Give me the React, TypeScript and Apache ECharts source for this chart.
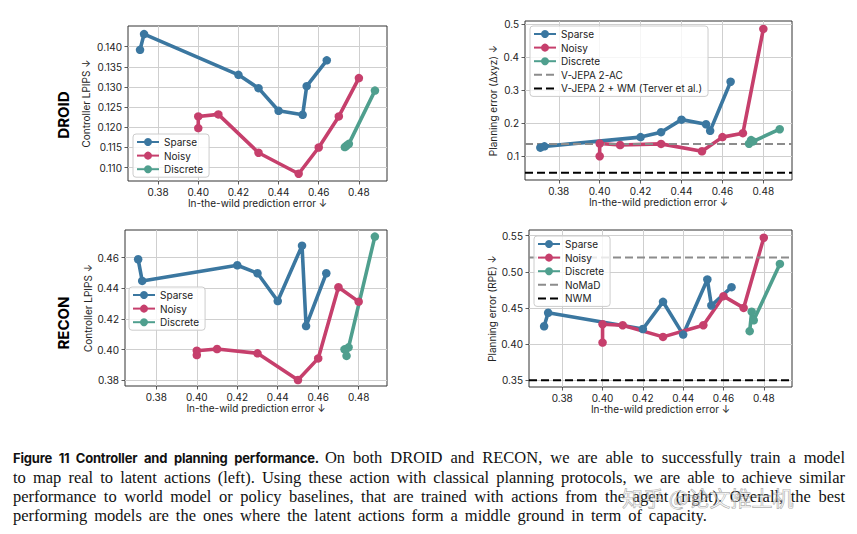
import React, { useEffect, useRef } from "react";
import * as echarts from "echarts";

// In-the-wild prediction error of each trained model (shared by all panels)
const SPARSE_X = [0.371, 0.373, 0.42, 0.43, 0.44, 0.452, 0.454, 0.464];
const NOISY_X = [0.4, 0.4, 0.41, 0.43, 0.45, 0.46, 0.47, 0.48];
const DISCRETE_X = [0.473, 0.474, 0.475, 0.488];

// DROID – controller LPIPS
const DROID_LPIPS_SPARSE = [0.1392, 0.1431, 0.133, 0.1297, 0.1241, 0.1231, 0.1302, 0.1366];
const DROID_LPIPS_NOISY = [0.1198, 0.1227, 0.1232, 0.1137, 0.1085, 0.115, 0.1227, 0.1322];
const DROID_LPIPS_DISCRETE = [0.1151, 0.1155, 0.1159, 0.1291];

// DROID – planning error (Δxyz)
const DROID_PLAN_SPARSE = [0.126, 0.13, 0.158, 0.173, 0.211, 0.197, 0.177, 0.326];
const DROID_PLAN_NOISY = [0.1, 0.1385, 0.134, 0.1375, 0.115, 0.158, 0.17, 0.486];
const DROID_PLAN_DISCRETE = [0.138, 0.149, 0.145, 0.182];
const VJEPA_AC = 0.137;
const VJEPA_WM = 0.05;

// RECON – controller LPIPS
const RECON_LPIPS_SPARSE = [0.4589, 0.4448, 0.455, 0.4498, 0.4317, 0.4678, 0.4154, 0.4498];
const RECON_LPIPS_NOISY = [0.3965, 0.3993, 0.4004, 0.3976, 0.3802, 0.3943, 0.4407, 0.4313];
const RECON_LPIPS_DISCRETE = [0.4002, 0.3959, 0.4015, 0.4737];

// RECON – planning error (RPE)
const RECON_PLAN_SPARSE = [0.4248, 0.4434, 0.421, 0.4586, 0.4133, 0.4895, 0.4535, 0.4789];
const RECON_PLAN_NOISY = [0.4022, 0.4276, 0.4262, 0.4101, 0.4262, 0.4664, 0.4502, 0.5472];
const RECON_PLAN_DISCRETE = [0.418, 0.445, 0.433, 0.511];
const NOMAD = 0.52;
const NWM = 0.35;

// Tick labels
const X_TICKS = [0.38, 0.4, 0.42, 0.44, 0.46, 0.48];
const DROID_LPIPS_TICKS = [0.11, 0.115, 0.12, 0.125, 0.13, 0.135, 0.14];
const DROID_PLAN_TICKS = [0.1, 0.2, 0.3, 0.4, 0.5];
const RECON_LPIPS_TICKS = [0.38, 0.4, 0.42, 0.44, 0.46];
const RECON_PLAN_TICKS = [0.35, 0.4, 0.45, 0.5, 0.55];

const CAPTION_BOLD = "Figure 11\u2002Controller and planning performance.";
const CAPTION_LINES = [
  "On both DROID and RECON, we are able to successfully train a model",
  "to map real to latent actions (left). Using these action with classical planning protocols, we are able to achieve similar",
  "performance to world model or policy baselines, that are trained with actions from the agent (right). Overall, the best",
  "performing models are the ones where the latent actions form a middle ground in term of capacity.",
];

const C_SPARSE = "#3b77a0";
const C_NOISY = "#c63f6c";
const C_DISCRETE = "#4f9f8e";
const FONT = "Inter, 'DejaVu Sans', sans-serif";
const TEXT = "#222";

const zip = (xs: number[], ys: number[]) => xs.map((x, i) => [x, ys[i]]);

type Ref = { name: string; value: number; color: string };
type Panel = {
  grid: { left: number; top: number; width: number; height: number };
  xRange: [number, number];
  yRange: [number, number];
  yTicks: number[];
  yDigits: number;
  yName: string;
  yNameGap: number;
  sparse: number[];
  noisy: number[];
  discrete: number[];
  refs: Ref[];
  legend: { left: number; top: number };
};

const panels: Panel[] = [
  {
    grid: { left: 128, top: 26, width: 259, height: 155 },
    xRange: [0.365, 0.494],
    yRange: [0.1067, 0.1451],
    yTicks: DROID_LPIPS_TICKS,
    yDigits: 3,
    yName: "Controller LPIPS \u2193",
    yNameGap: 37,
    sparse: DROID_LPIPS_SPARSE,
    noisy: DROID_LPIPS_NOISY,
    discrete: DROID_LPIPS_DISCRETE,
    refs: [],
    legend: { left: 133, top: 134 },
  },
  {
    grid: { left: 525, top: 21, width: 267, height: 159 },
    xRange: [0.3635, 0.494],
    yRange: [0.028, 0.51],
    yTicks: DROID_PLAN_TICKS,
    yDigits: 1,
    yName: "Planning error (\u0394xyz) \u2193",
    yNameGap: 27,
    sparse: DROID_PLAN_SPARSE,
    noisy: DROID_PLAN_NOISY,
    discrete: DROID_PLAN_DISCRETE,
    refs: [
      { name: "V-JEPA 2-AC", value: VJEPA_AC, color: "#8c8c8c" },
      { name: "V-JEPA 2 + WM (Terver et al.)", value: VJEPA_WM, color: "#000000" },
    ],
    legend: { left: 530, top: 26 },
  },
  {
    grid: { left: 125, top: 230, width: 262, height: 156 },
    xRange: [0.3645, 0.494],
    yRange: [0.3763, 0.478],
    yTicks: RECON_LPIPS_TICKS,
    yDigits: 2,
    yName: "Controller LPIPS \u2193",
    yNameGap: 32,
    sparse: RECON_LPIPS_SPARSE,
    noisy: RECON_LPIPS_NOISY,
    discrete: RECON_LPIPS_DISCRETE,
    refs: [],
    legend: { left: 129, top: 287 },
  },
  {
    grid: { left: 529, top: 230, width: 263, height: 157 },
    xRange: [0.3635, 0.494],
    yRange: [0.3408, 0.5579],
    yTicks: RECON_PLAN_TICKS,
    yDigits: 2,
    yName: "Planning error (RPE) \u2193",
    yNameGap: 31,
    sparse: RECON_PLAN_SPARSE,
    noisy: RECON_PLAN_NOISY,
    discrete: RECON_PLAN_DISCRETE,
    refs: [
      { name: "NoMaD", value: NOMAD, color: "#8c8c8c" },
      { name: "NWM", value: NWM, color: "#000000" },
    ],
    legend: { left: 534, top: 236 },
  },
];

function buildOption() {
  const grids: any[] = [];
  const xAxes: any[] = [];
  const yAxes: any[] = [];
  const series: any[] = [];
  const legends: any[] = [];

  panels.forEach((p, i) => {
    grids.push({
      ...p.grid,
      show: true,
      borderColor: "#333",
      borderWidth: 1,
      backgroundColor: "transparent",
    });
    xAxes.push({
      gridIndex: i,
      type: "value",
      min: p.xRange[0],
      max: p.xRange[1],
      axisLine: { show: false, onZero: false },
      axisTick: {
        show: true,
        customValues: X_TICKS,
        length: 3.5,
        lineStyle: { color: "#333", width: 0.8 },
      },
      axisLabel: {
        customValues: X_TICKS,
        formatter: (v: number) => v.toFixed(2),
        fontSize: 10,
        color: TEXT,
        fontFamily: FONT,
        margin: 6,
      },
      splitLine: { show: true, lineStyle: { color: "#cfcfcf", width: 1 } },
      name: "In-the-wild prediction error \u2193",
      nameLocation: "middle",
      nameGap: 17,
      nameTextStyle: { fontSize: 10, color: TEXT, fontFamily: FONT },
    });
    yAxes.push({
      gridIndex: i,
      type: "value",
      min: p.yRange[0],
      max: p.yRange[1],
      axisLine: { show: false, onZero: false },
      axisTick: {
        show: true,
        customValues: p.yTicks,
        length: 3.5,
        lineStyle: { color: "#333", width: 0.8 },
      },
      axisLabel: {
        customValues: p.yTicks,
        formatter: (v: number) => v.toFixed(p.yDigits),
        fontSize: 10,
        color: TEXT,
        fontFamily: FONT,
        margin: 6,
      },
      splitLine: { show: true, lineStyle: { color: "#cfcfcf", width: 1 } },
      name: p.yName,
      nameLocation: "middle",
      nameGap: p.yNameGap,
      nameTextStyle: { fontSize: 10, color: TEXT, fontFamily: FONT },
    });

    const lineSeries = (name: string, xs: number[], ys: number[], color: string) => ({
      name,
      type: "line",
      xAxisIndex: i,
      yAxisIndex: i,
      data: zip(xs, ys),
      symbol: "circle",
      symbolSize: 8.5,
      lineStyle: { width: 3.6, color },
      itemStyle: { color },
      silent: true,
    });
    series.push(lineSeries("Sparse", SPARSE_X, p.sparse, C_SPARSE));
    series.push(lineSeries("Noisy", NOISY_X, p.noisy, C_NOISY));
    series.push(lineSeries("Discrete", DISCRETE_X, p.discrete, C_DISCRETE));
    p.refs.forEach((r) => {
      series.push({
        name: r.name,
        type: "line",
        xAxisIndex: i,
        yAxisIndex: i,
        data: [
          [p.xRange[0], r.value],
          [p.xRange[1], r.value],
        ],
        symbol: "none",
        lineStyle: { width: 2, color: r.color, type: [8, 4] },
        itemStyle: { color: r.color },
        silent: true,
      });
    });

    legends.push({
      orient: "vertical",
      left: p.legend.left,
      top: p.legend.top,
      data: [
        "Sparse",
        "Noisy",
        "Discrete",
        // reference lines: dashes only, no marker in the key
        ...p.refs.map((r) => ({
          name: r.name,
          itemStyle: { opacity: 0, color: "rgba(0,0,0,0)", borderWidth: 0 },
        })),
      ],
      itemWidth: 22,
      itemHeight: 10,
      itemGap: 3.6,
      padding: [3, 6, 3, 3],
      borderColor: "#cccccc",
      borderWidth: 1,
      borderRadius: 3,
      backgroundColor: "rgba(255,255,255,0.8)",
      textStyle: { fontSize: 10, color: TEXT, fontFamily: FONT },
      selectedMode: false,
    });
  });

  const rowLabel = (text: string, y: number) => ({
    type: "text",
    x: 63,
    y,
    rotation: Math.PI / 2,
    style: {
      text,
      fontSize: 15,
      fontWeight: "bold",
      fontFamily: FONT,
      fill: "#000",
      align: "center",
      verticalAlign: "middle",
    },
  });

  return {
    animation: false,
    backgroundColor: "#fff",
    grid: grids,
    xAxis: xAxes,
    yAxis: yAxes,
    series,
    legend: legends,
    graphic: [rowLabel("DROID", 115), rowLabel("RECON", 323)],
  };
}

export default function App() {
  const ref = useRef<HTMLDivElement>(null);

  useEffect(() => {
    if (!ref.current) return;
    const chart = echarts.init(ref.current, undefined, { renderer: "svg" });
    chart.setOption(buildOption() as any);
    return () => chart.dispose();
  }, []);

  return (
    <div
      style={{
        position: "fixed",
        left: 0,
        top: 0,
        width: 857,
        height: 534,
        background: "#fff",
        overflow: "hidden",
      }}
    >
      <div ref={ref} style={{ position: "absolute", left: 0, top: 0, width: 857, height: 430 }} />
      <div
        style={{
          position: "absolute",
          left: 13,
          top: 447.5,
          width: 832,
          fontFamily: "'Liberation Serif', 'DejaVu Serif', serif",
          fontSize: 16.5,
          lineHeight: "19.2px",
          color: "#111",
        }}
      >
        {CAPTION_LINES.map((line, i) => {
          const last = i === CAPTION_LINES.length - 1;
          return (
            <div
              key={i}
              style={{
                textAlign: "justify",
                textAlignLast: last ? "left" : "justify",
                whiteSpace: "nowrap",
                wordSpacing: last ? "2.8px" : undefined,
              }}
            >
              {i === 0 && (
                <span
                  style={{
                    fontFamily: FONT,
                    fontWeight: 700,
                    fontSize: 13,
                    letterSpacing: "-0.2px",
                    marginRight: 6,
                  }}
                >
                  {CAPTION_BOLD}
                </span>
              )}
              {line}
            </div>
          );
        })}
      </div>
      <div
        style={{
          position: "absolute",
          left: 622,
          top: 486,
          height: 22,
          lineHeight: "22px",
          fontFamily: "'Noto Sans CJK SC', sans-serif",
          fontSize: 21,
          color: "rgba(255,255,255,0.45)",
          WebkitTextStroke: "0.7px rgba(110,110,110,0.55)",
          whiteSpace: "nowrap",
          pointerEvents: "none",
        }}
      >
        知乎 @论文推土机
      </div>
    </div>
  );
}
